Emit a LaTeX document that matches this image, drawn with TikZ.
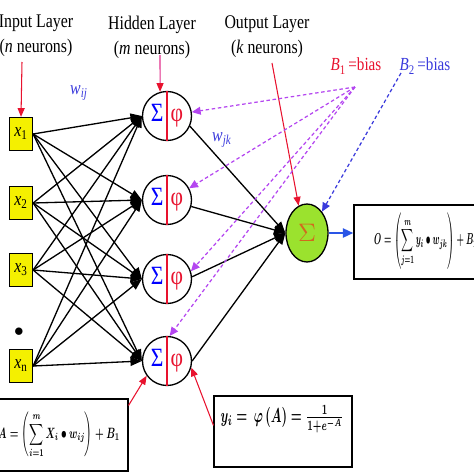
\documentclass[tikz,border=0pt]{standalone}
\usepackage{fontspec}
\setmainfont{Liberation Serif}[FakeStretch=0.82]
\usetikzlibrary{arrows.meta,shapes.geometric}
\definecolor{myinputcolor}{HTML}{F4F000}
\definecolor{myoutputcolor}{HTML}{9BE22E}
\definecolor{mysigmacolor}{HTML}{D2691E}
\definecolor{mybiascolor}{HTML}{B446F0}
\definecolor{myredcolor}{HTML}{E8122E}
\definecolor{mypinkcolor}{HTML}{E0308C}
\definecolor{mybluecolor}{HTML}{3A3ADC}
\definecolor{myarrowblue}{HTML}{2A55E6}

\tikzset{
  inputbox/.style={draw, fill=myinputcolor, rectangle, line width=0.7pt, minimum width=0.46cm, minimum height=0.66cm, inner sep=0pt, font=\fontsize{11}{11}\selectfont},
  hiddencircle/.style={draw, circle, line width=0.75pt, minimum size=0.98cm, inner sep=0pt, font=\fontsize{15}{15}\selectfont},
  outputellipse/.style={draw, ellipse, fill=myoutputcolor, line width=0.75pt, minimum width=0.84cm, minimum height=1.16cm, inner sep=0pt, font=\fontsize{15}{15}\selectfont},
  formulabox/.style={draw, rectangle, line width=0.6pt, inner sep=0pt},
  layerlabel/.style={align=center, font=\fontsize{11}{14.2}\selectfont},
  biaslabel/.style={font=\fontsize{10.5}{10.5}\selectfont},
  weightlabel/.style={mybluecolor, font=\fontsize{11}{11}\selectfont},
  weightline/.style={line width=0.75pt, -{Triangle[length=6.5pt,width=5pt]}},
  biasline/.style={mybiascolor, line width=0.7pt, dash pattern=on 2pt off 1.5pt, -{Triangle[length=5pt,width=4.5pt]}},
  redarrow/.style={myredcolor, line width=0.6pt, -{Triangle[length=5pt,width=4pt]}},
  philine/.style={myredcolor, line width=0.9pt},
}

\begin{document}
\begin{tikzpicture}[x=0.02cm, y=-0.02cm]%
\useasboundingbox (0,0) rectangle (474,474);%
% layer titles
\node[layerlabel] (inlbl) at (36,36) {Input Layer\\(\textit{n} neurons)};%
\node[layerlabel] (hidlbl) at (152,37) {Hidden Layer\\(\textit{m} neurons)};%
\node[layerlabel] (outlbl) at (267,37) {Output Layer\\(\textit{k} neurons)};%
% input neurons
\node[inputbox] (in1) at (21,134) {\textit{x}\textsubscript{1}};%
\node[inputbox] (in2) at (21,203) {\textit{x}\textsubscript{2}};%
\node[inputbox] (in3) at (21,270) {\textit{x}\textsubscript{3}};%
\node (dots) at (19,332) {\fontsize{11}{11}\selectfont $\bullet$};%
\node[inputbox] (inn) at (21,366) {\textit{x}\textsubscript{n}};%
% hidden neurons
\node[hiddencircle] (hid1) at (167,116) {\textcolor{blue}{Σ}\hspace{4pt}\textcolor{myredcolor}{φ}};%
\node[hiddencircle] (hid2) at (167,200) {\textcolor{blue}{Σ}\hspace{4pt}\textcolor{myredcolor}{φ}};%
\node[hiddencircle] (hid3) at (167,279) {\textcolor{blue}{Σ}\hspace{4pt}\textcolor{myredcolor}{φ}};%
\node[hiddencircle] (hid4) at (167,361) {\textcolor{blue}{Σ}\hspace{4pt}\textcolor{myredcolor}{φ}};%
\draw[philine] (hid1.north) -- (hid1.south);%
\draw[philine] (hid2.north) -- (hid2.south);%
\draw[philine] (hid3.north) -- (hid3.south);%
\draw[philine] (hid4.north) -- (hid4.south);%
% output neuron
\node[outputellipse] (out) at (307,233) {\textcolor{mysigmacolor}{$\Sigma$}};%
% weights input -> hidden
\draw[weightline] (in1.east) -- (hid1.west);%
\draw[weightline] (in1.east) -- (hid2.west);%
\draw[weightline] (in1.east) -- (hid3.west);%
\draw[weightline] (in1.east) -- (hid4.west);%
\draw[weightline] (in2.east) -- (hid1.west);%
\draw[weightline] (in2.east) -- (hid2.west);%
\draw[weightline] (in2.east) -- (hid3.west);%
\draw[weightline] (in2.east) -- (hid4.west);%
\draw[weightline] (in3.east) -- (hid1.west);%
\draw[weightline] (in3.east) -- (hid2.west);%
\draw[weightline] (in3.east) -- (hid3.west);%
\draw[weightline] (in3.east) -- (hid4.west);%
\draw[weightline] (inn.east) -- (hid1.west);%
\draw[weightline] (inn.east) -- (hid2.west);%
\draw[weightline] (inn.east) -- (hid3.west);%
\draw[weightline] (inn.east) -- (hid4.west);%
% weights hidden -> output
\draw[weightline] (hid1.-24) -- (out.west);%
\draw[weightline] (hid2.-15) -- (out.west);%
\draw[weightline] (hid3.5) -- (out.west);%
\draw[weightline] (hid4.0) -- (out.west);%
\node[weightlabel] (wij) at (79,93) {\textit{w}\textsubscript{\textit{ij}}};%
\node[weightlabel] (wjk) at (222,140) {\textit{w}\textsubscript{\textit{jk}}};%
% layer arrows
\coordinate (inarrow) at (22,62);%
\coordinate (hidarrow) at (160,55);%
\coordinate (outarrow) at (272,63);%
\draw[redarrow] (inarrow) -- (in1.north);%
\draw[mypinkcolor, line width=0.6pt, -{Triangle[length=5pt,width=4pt,color=myredcolor]}] (hidarrow) -- (hid1.106);%
\draw[redarrow] (outarrow) -- (out.107);%
% bias
\node[biaslabel, myredcolor] (b1lbl) at (356,66) {\textit{B}\raisebox{-0.55ex}{\fontsize{7.5}{7.5}\selectfont 1}\,=bias};%
\node[biaslabel, mybluecolor] (b2lbl) at (425,66) {\textit{B}\raisebox{-0.55ex}{\fontsize{7.5}{7.5}\selectfont 2}\,=bias};%
\coordinate (b1) at (355,87);%
\coordinate (b2) at (401,73);%
\draw[biasline] (b1) -- (hid1.9);%
\draw[biasline] (b1) -- (hid2.28);%
\draw[biasline] (b1) -- (hid3.18);%
\draw[biasline] (b1) -- (hid4.84);%
\draw[mybluecolor, line width=0.7pt, dash pattern=on 2pt off 1.5pt, -{Triangle[length=5pt,width=4.5pt]}] (b2) -- (out.55);%
% formula boxes
\node[formulabox, minimum width=3.04cm, minimum height=1.48cm] (obox) at (430,242) {};%
\node[anchor=west] (oform) at (368,241) {\scalebox{0.47}[0.9]{\boldmath$\displaystyle O=\left(\sum_{j=1}^{m} y_i\bullet w_{jk}\right)+B_2$}};%
\draw[myarrowblue, line width=1.6pt, -{Triangle[length=6pt,width=5pt]}] (out.east) -- (out.east -| obox.west);%
\node[formulabox, minimum width=2.76cm, minimum height=1.44cm] (abox) at (59,435) {\scalebox{0.555}[0.85]{\boldmath$\displaystyle A=\left(\sum_{i=1}^{m} X_i\bullet w_{ij}\right)+B_1$}};%
\node[formulabox, minimum width=2.76cm, minimum height=1.42cm] (ybox) at (283,431.5) {};%
\node (yform) at (282,419) {\scalebox{0.7}[1.15]{\boldmath$y_i=\ \varphi\left(A\right)=\frac{1}{1+e^{-A}}$}};%
\draw[redarrow] (abox.23) -- (hid4.216);%
\draw[redarrow] (ybox.175) -- (hid4.-15);%
\end{tikzpicture}
\end{document}
